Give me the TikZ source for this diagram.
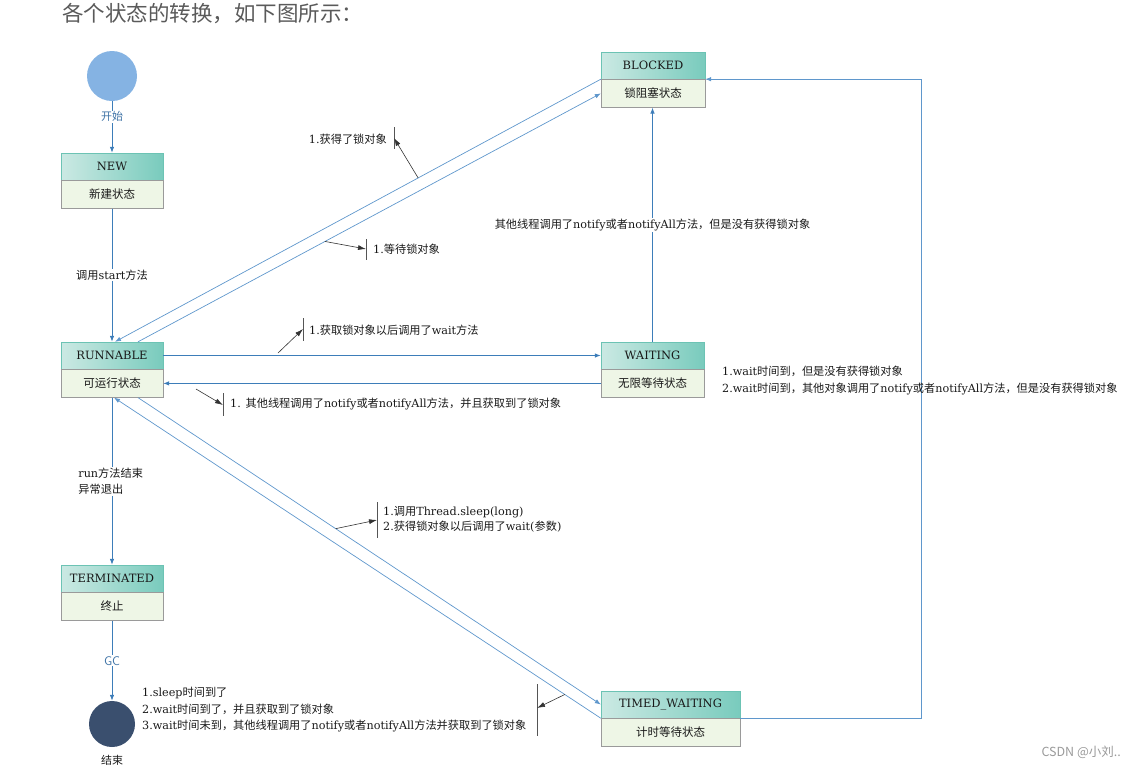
\documentclass[tikz,border=0pt]{standalone}
\usepackage{fontspec}
\setmainfont{DejaVu Serif}
\newfontfamily\cjk{Noto Sans CJK SC}
\usetikzlibrary{arrows.meta,calc}
\newcommand{\zhs}[1]{{\cjk #1}}
\definecolor{hdrL}{HTML}{CBE9E3}
\definecolor{hdrR}{HTML}{79CBBD}
\definecolor{hdrB}{HTML}{6CC3B4}
\definecolor{bodyF}{HTML}{EEF6E6}
\definecolor{bodyB}{HTML}{9A9A9A}
\definecolor{connC}{HTML}{3D7DB9}
\definecolor{conn2C}{HTML}{5F97CC}
\definecolor{startC}{HTML}{85B3E3}
\definecolor{endC}{HTML}{3A4F6E}
\definecolor{lblBlue}{HTML}{3D72A6}
\definecolor{callC}{HTML}{333333}
\definecolor{brkC}{HTML}{555555}
\definecolor{titleC}{HTML}{5A5A5A}
\definecolor{markC}{HTML}{9A9A9A}
\begin{document}
\begin{tikzpicture}[x=1pt,y=-1pt,
 hdr/.style={draw=hdrB, left color=hdrL, right color=hdrR, minimum height=27pt, inner sep=0pt, font=\fontsize{11.5}{13}\selectfont, text=black!90},
 bodybox/.style={draw=bodyB, fill=bodyF, minimum height=28pt, inner sep=0pt, font=\fontsize{11.5}{13}\selectfont\cjk, text=black!90},
 conn/.style={draw=connC, line width=0.8pt, -{Latex[length=6pt,width=4.5pt]}},
 conntwo/.style={draw=conn2C, line width=0.7pt, -{Latex[length=6pt,width=4.5pt]}},
 lbl/.style={font=\fontsize{11.2}{16.5}\selectfont, text=black!90, inner sep=1pt},
 wlbl/.style={lbl, fill=white},
 callarrow/.style={draw=callC, line width=0.6pt, -{Latex[length=8pt,width=5pt]}},
 brk/.style={draw=brkC, line width=0.8pt}
]
\useasboundingbox (0,0) rectangle (1134,769);

% title
\node[anchor=west, font=\fontsize{21.5}{24}\selectfont\cjk, text=titleC, inner sep=0pt] (title) at (62,14) {各个状态的转换，如下图所示：};

% start / end
\node[circle, fill=startC, minimum size=50pt, inner sep=0pt] (start) at (112,76) {};
\node[circle, fill=endC, minimum size=46pt, inner sep=0pt] (endc) at (112,724) {};
\node[lbl, font=\fontsize{11}{12}\selectfont\cjk] (endlbl) at (112,760) {结束};

% states
\node[hdr, minimum width=102pt] (newh) at (112,166.5) {NEW};
\node[bodybox, minimum width=102pt, anchor=north] (newb) at (newh.south) {新建状态};
\node[hdr, minimum width=102pt] (runh) at (112,355.5) {RUNNABLE};
\node[bodybox, minimum width=102pt, anchor=north] (runb) at (runh.south) {可运行状态};
\node[hdr, minimum width=102pt] (termh) at (112,578.5) {TERMINATED};
\node[bodybox, minimum width=102pt, anchor=north] (termb) at (termh.south) {终止};
\node[hdr, minimum width=104pt] (blockh) at (653,65.5) {BLOCKED};
\node[bodybox, minimum width=104pt, anchor=north] (blockb) at (blockh.south) {锁阻塞状态};
\node[hdr, minimum width=103pt] (waith) at (652.5,355.5) {WAITING};
\node[bodybox, minimum width=103pt, anchor=north] (waitb) at (waith.south) {无限等待状态};
\node[hdr, minimum width=139pt] (twh) at (670.5,704.5) {TIMED\_WAITING};
\node[bodybox, minimum width=139pt, anchor=north] (twb) at (twh.south) {计时等待状态};

% vertical chain
\draw[conn] (start) -- node[pos=0.3, wlbl, text=lblBlue, font=\fontsize{11}{12}\selectfont\cjk] {开始} (newh);
\draw[conn] (newb) -- node[wlbl] {\zhs{调用}start\zhs{方法}} (runh);
\draw[conn] (runb) -- node[wlbl, align=left, anchor=west, xshift=-35pt] {run\zhs{方法结束}\\\zhs{异常退出}} (termh);
\draw[conn] (termb) -- node[wlbl, text=lblBlue, font=\fontsize{12.5}{13}\selectfont\sffamily] {GC} (endc);

% RUNNABLE <-> WAITING
\draw[conn] (runh.east) -- (waith.west);
\draw[conn] (waitb.west) -- (runb.east);

% WAITING -> BLOCKED
\draw[conn] (waith.north) -- node[wlbl] {\zhs{其他线程调用了}notify\zhs{或者}notifyAll\zhs{方法，但是没有获得锁对象}} (waith.north |- blockb.south);

% TIMED_WAITING -> BLOCKED
\draw[conn, draw=conn2C] (twh.south east) -| ($(blockh.south east)+(216,0)$) -- (blockh.south east);
\node[lbl, anchor=west, align=left] (twblbl) at (721,380.5) {1.wait\zhs{时间到，但是没有获得锁对象}\\2.wait\zhs{时间到，其他对象调用了}notify\zhs{或者}notifyAll\zhs{方法，但是没有获得锁对象}};

% RUNNABLE <-> BLOCKED
\draw[conntwo] (blockh.south west) -- coordinate[pos=0.376] (ca) ($(runh.north)+(3,0)$);
\draw[conntwo] ($(runh.north)+(26,0)$) -- coordinate[pos=0.404] (cb) (blockb.west);

% RUNNABLE <-> TIMED_WAITING
\draw[conntwo] ($(runb.south)+(26,0)$) -- coordinate[pos=0.427] (cc) (twh.west);
\draw[conntwo] (twb.north west) -- coordinate[pos=0.074] (cd) ($(runb.south)+(2,0)$);

% callout 1
\coordinate (t1) at (394,138);
\coordinate (b1a) at (394,127);
\coordinate (b1b) at (394,149);
\draw[brk] (b1a) -- (b1b);
\draw[callarrow] (ca) -- (t1);
\node[lbl, anchor=east] (l1) at (388,139) {1.\zhs{获得了锁对象}};

% callout 2
\coordinate (t2) at (366,249);
\coordinate (b2a) at (366,239);
\coordinate (b2b) at (366,260);
\draw[brk] (b2a) -- (b2b);
\draw[callarrow] (cb) -- (t2);
\node[lbl, anchor=west] (l2) at (372,249) {1.\zhs{等待锁对象}};

% callout 3
\coordinate (s3) at (278,353);
\coordinate (t3) at (303,329);
\coordinate (b3a) at (303,318);
\coordinate (b3b) at (303,341);
\draw[brk] (b3a) -- (b3b);
\draw[callarrow] (s3) -- (t3);
\node[lbl, anchor=west] (l3) at (308,330) {1.\zhs{获取锁对象以后调用了}wait\zhs{方法}};

% callout 4
\coordinate (s4) at (196,389);
\coordinate (t4) at (223,405);
\coordinate (b4a) at (223,393);
\coordinate (b4b) at (223,416);
\draw[brk] (b4a) -- (b4b);
\draw[callarrow] (s4) -- (t4);
\node[lbl, anchor=west] (l4) at (229,404) {1. \zhs{其他线程调用了}notify\zhs{或者}notifyAll\zhs{方法，并且获取到了锁对象}};

% callout 5
\coordinate (t5) at (377,520);
\coordinate (b5a) at (377,502);
\coordinate (b5b) at (377,538);
\draw[brk] (b5a) -- (b5b);
\draw[callarrow] (cc) -- (t5);
\node[lbl, anchor=west, align=left, font=\fontsize{11.2}{15}\selectfont] (l5) at (382,519) {1.\zhs{调用}Thread.sleep(long)\\2.\zhs{获得锁对象以后调用了}wait(\zhs{参数})};

% callout 6
\coordinate (t6) at (537,708);
\coordinate (b6a) at (537,684);
\coordinate (b6b) at (537,736);
\draw[brk] (b6a) -- (b6b);
\draw[callarrow] (cd) -- (t6);
\node[lbl, anchor=west, align=left] (l6) at (141,710) {1.sleep\zhs{时间到了}\\2.wait\zhs{时间到了，并且获取到了锁对象}\\3.wait\zhs{时间未到，其他线程调用了}notify\zhs{或者}notifyAll\zhs{方法并获取到了锁对象}};

% watermark
\node[anchor=east, font=\fontsize{12.5}{14}\selectfont\cjk, text=markC, inner sep=0pt] (mark) at (1121,752) {CSDN @小刘..};
\end{tikzpicture}
\end{document}
